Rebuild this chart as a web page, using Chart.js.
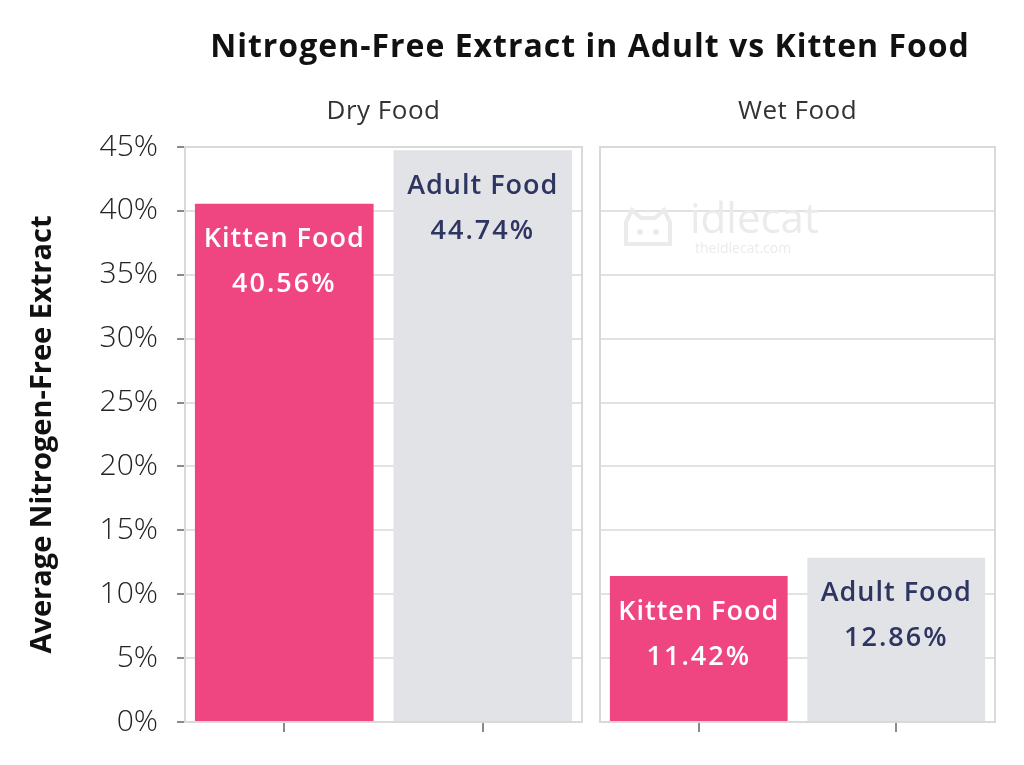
<!DOCTYPE html>
<html>
<head>
<meta charset="utf-8">
<script src="https://cdn.jsdelivr.net/npm/chart.js@4.4.1/dist/chart.umd.min.js"></script>
<style>
  html, body { margin: 0; padding: 0; background: #fff; }
  #wrap { position: relative; width: 1024px; height: 765px; overflow: hidden; }
  #title {
    position: absolute; left: 180px; width: 820px; top: 23px; line-height: 44px;
    text-align: center; font: 700 32px "Open Sans", sans-serif; color: #111;
    letter-spacing: 1px; white-space: nowrap;
  }
  .box { position: absolute; top: 0; height: 765px; }
  #boxDry { left: 0; width: 592px; }
  #boxWet { left: 592px; width: 432px; }
</style>
</head>
<body>
<div id="wrap">
  <div class="box" id="boxDry"><canvas id="dryChart"></canvas></div>
  <div class="box" id="boxWet"><canvas id="wetChart"></canvas></div>
  <div id="title">Nitrogen-Free Extract in Adult vs Kitten Food</div>
</div>
<script>
  // ---------------- DATA ----------------
  const panelNames = ["Dry Food", "Wet Food"];
  const seriesNames = ["Kitten Food", "Adult Food"];
  const dryValues = [40.56, 44.74];
  const wetValues = [11.42, 12.86];
  const yMax = 45;
  const yStep = 5;

  const barColors = ["#ef4581", "#e2e3e6"];
  const labelColors = ["#ffffff", "#2e3561"];
  const FONT = '"Open Sans", sans-serif';

  // panel title, border box and labels inside the bars
  const panelPlugin = {
    id: "panelPlugin",
    beforeDatasetsDraw(chart) {
      const a = chart.chartArea;
      const ctx = chart.ctx;
      ctx.save();
      ctx.strokeStyle = "#d9d9d9";
      ctx.lineWidth = 2;
      ctx.strokeRect(a.left, a.top, a.right - a.left, a.bottom - a.top);
      ctx.restore();
    },
    afterDatasetsDraw(chart, args, opts) {
      const ctx = chart.ctx;
      const a = chart.chartArea;
      ctx.save();
      ctx.textAlign = "center";
      ctx.textBaseline = "middle";
      ctx.fillStyle = "#333";
      ctx.font = "400 26px " + FONT;
      ctx.letterSpacing = "0.5px";
      ctx.fillText(opts.title, (a.left + a.right) / 2, 112);

      const meta = chart.getDatasetMeta(0);
      const values = chart.data.datasets[0].data;
      meta.data.forEach((bar, i) => {
        ctx.fillStyle = labelColors[i];
        ctx.font = "600 27px " + FONT;
        ctx.letterSpacing = "1px";
        ctx.fillText(seriesNames[i], bar.x, bar.y + 36);
        ctx.letterSpacing = "2px";
        ctx.fillText(values[i].toFixed(2) + "%", bar.x, bar.y + 81);
      });
      ctx.letterSpacing = "0px";

      if (opts.watermark) {
        ctx.fillStyle = "#ebebec";
        ctx.textAlign = "left";
        ctx.font = "500 42px " + FONT;
        ctx.fillText("idlecat", a.left + 90, 221);
        ctx.font = "400 14px " + FONT;
        ctx.fillText("theidlecat.com", a.left + 95, 249);
        // cat face outline
        ctx.strokeStyle = "#ebebec";
        ctx.lineWidth = 4;
        const cx = a.left + 48, cy = 230;
        ctx.beginPath();
        ctx.moveTo(cx - 22, cy + 14);
        ctx.lineTo(cx - 22, cy - 8);
        ctx.lineTo(cx - 16, cy - 20);
        ctx.lineTo(cx - 7, cy - 12);
        ctx.lineTo(cx + 7, cy - 12);
        ctx.lineTo(cx + 16, cy - 20);
        ctx.lineTo(cx + 22, cy - 8);
        ctx.lineTo(cx + 22, cy + 14);
        ctx.closePath();
        ctx.stroke();
        ctx.fillStyle = "#ebebec";
        ctx.beginPath();
        ctx.arc(cx - 8, cy + 2, 3, 0, Math.PI * 2);
        ctx.arc(cx + 8, cy + 2, 3, 0, Math.PI * 2);
        ctx.fill();
      }
      ctx.restore();
    }
  };

  function makeChart(canvasId, values, title, isLeft) {
    return new Chart(document.getElementById(canvasId), {
      type: "bar",
      data: {
        labels: seriesNames,
        datasets: [{
          data: values,
          backgroundColor: barColors,
          borderWidth: 0,
          barPercentage: 0.9,
          categoryPercentage: 1.0
        }]
      },
      options: {
        responsive: true,
        maintainAspectRatio: false,
        animation: false,
        layout: {
          padding: isLeft
            ? { top: 147, right: 10, left: 0, bottom: 0 }
            : { top: 147, right: 29, left: 8, bottom: 0 }
        },
        plugins: {
          legend: { display: false },
          tooltip: { enabled: false },
          panelPlugin: { title: title, watermark: !isLeft }
        },
        scales: {
          x: {
            offset: true,
            grid: { offset: false, drawOnChartArea: false, drawTicks: true, tickLength: 10, tickColor: "#8a8a8a", lineWidth: 2 },
            border: { display: true, color: "#b0b0b0", width: 2 },
            ticks: { display: false },
            afterFit: s => { s.height = 43; }
          },
          y: {
            min: 0,
            max: yMax,
            ticks: {
              display: isLeft,
              stepSize: yStep,
              padding: 19,
              color: "#222",
              font: { family: FONT, size: 30, weight: 300 },
              callback: v => v + "%"
            },
            grid: {
              color: "#e2e2e2",
              lineWidth: 2,
              drawTicks: isLeft,
              tickLength: isLeft ? 8 : 0,
              tickColor: "#8a8a8a"
            },
            border: { display: isLeft, color: "#8a8a8a", width: 2 },
            title: {
              display: isLeft,
              text: "Average Nitrogen-Free Extract",
              color: "#111",
              font: { family: FONT, size: 29, weight: 700 },
              padding: { top: 25, bottom: 0 }
            },
            afterFit: s => { s.width = isLeft ? 185 : 0; }
          }
        }
      },
      plugins: [panelPlugin]
    });
  }

  makeChart("dryChart", dryValues, panelNames[0], true);
  makeChart("wetChart", wetValues, panelNames[1], false);
</script>
</body>
</html>
